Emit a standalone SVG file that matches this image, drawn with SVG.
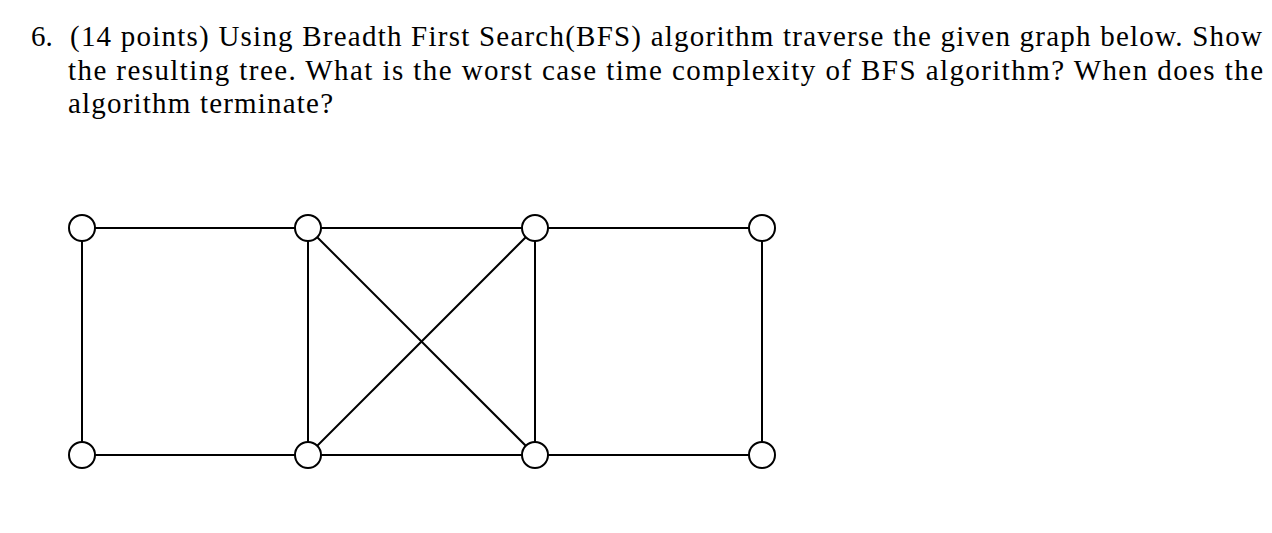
<svg xmlns="http://www.w3.org/2000/svg" width="1272" height="533" viewBox="0 0 1272 533">
<style>
text{font-family:"Liberation Serif","DejaVu Serif",serif;font-size:29px;fill:#000}
.e{stroke:#000;stroke-width:2;fill:none}
.n{stroke:#000;stroke-width:2;fill:#fff}
</style>
<rect width="1272" height="533" fill="#fff"/>
<g id="question">
<text x="31" y="46">6.</text>
<text x="70" y="46" textLength="1192" lengthAdjust="spacing">(14 points)  Using Breadth First Search(BFS) algorithm traverse the given graph below. Show</text>
<text x="68" y="80" textLength="1195" lengthAdjust="spacing">the resulting tree. What is the worst case time complexity of BFS algorithm? When does the</text>
<text x="68" y="113" textLength="265" lengthAdjust="spacing">algorithm terminate?</text>
</g>
<g id="edges" class="e">
<line x1="82" y1="228" x2="308" y2="228"/>
<line x1="308" y1="228" x2="535" y2="228"/>
<line x1="535" y1="228" x2="762" y2="228"/>
<line x1="82" y1="455" x2="308" y2="455"/>
<line x1="308" y1="455" x2="535" y2="455"/>
<line x1="535" y1="455" x2="762" y2="455"/>
<line x1="82" y1="228" x2="82" y2="455"/>
<line x1="308" y1="228" x2="308" y2="455"/>
<line x1="535" y1="228" x2="535" y2="455"/>
<line x1="762" y1="228" x2="762" y2="455"/>
<line x1="308" y1="228" x2="535" y2="455"/>
<line x1="535" y1="228" x2="308" y2="455"/>
</g>
<g id="n1"><circle class="n" cx="82" cy="228" r="13"/></g>
<g id="n2"><circle class="n" cx="308" cy="228" r="13"/></g>
<g id="n3"><circle class="n" cx="535" cy="228" r="13"/></g>
<g id="n4"><circle class="n" cx="762" cy="228" r="13"/></g>
<g id="n5"><circle class="n" cx="82" cy="455" r="13"/></g>
<g id="n6"><circle class="n" cx="308" cy="455" r="13"/></g>
<g id="n7"><circle class="n" cx="535" cy="455" r="13"/></g>
<g id="n8"><circle class="n" cx="762" cy="455" r="13"/></g>
</svg>
